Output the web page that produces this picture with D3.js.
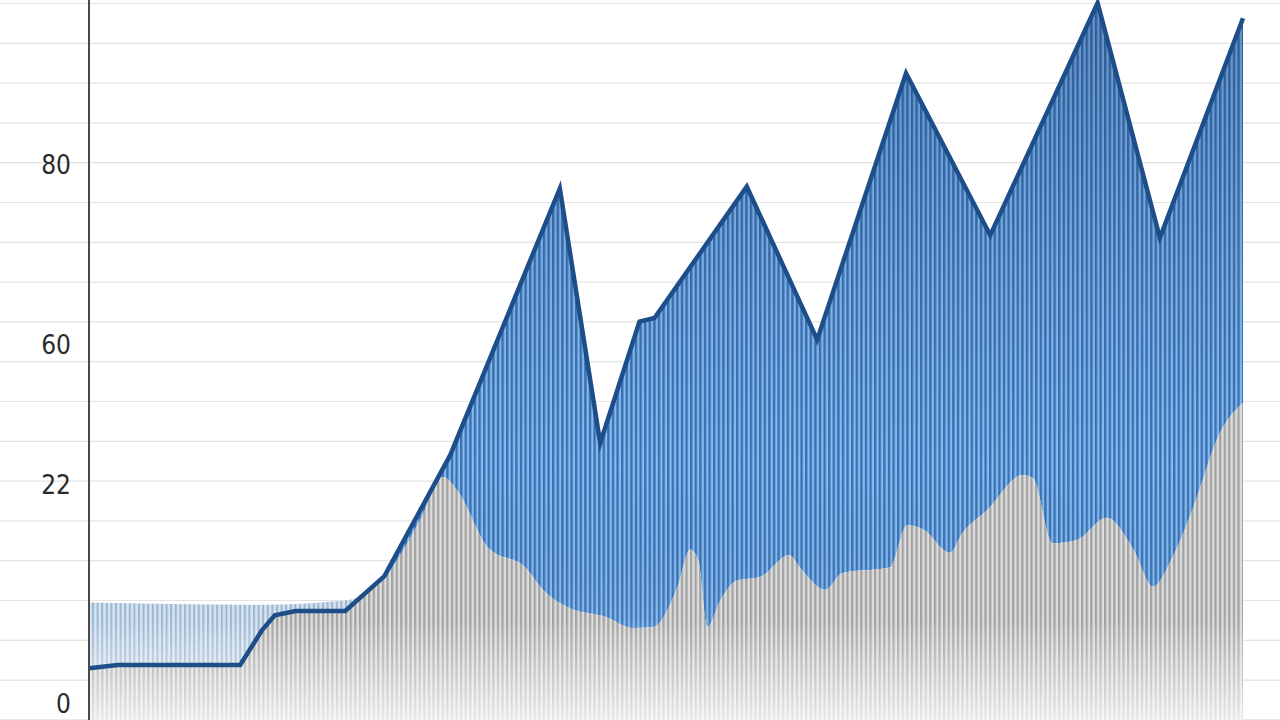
<!DOCTYPE html>
<html><head><meta charset="utf-8">
<script src="https://cdn.jsdelivr.net/npm/d3@7"></script>
<style>html,body{margin:0;background:#fff;overflow:hidden}</style>
</head><body>
<svg id="c" width="1280" height="720"></svg>
<script>
// Upper series (blue line) – position along x (0–100) and value
const lineT = [0, 2.5, 13.1, 15.0, 16.1, 17.9, 22.2, 25.6, 31.3, 40.8, 44.3, 47.7, 49.0, 57.0, 63.1, 70.8, 78.1, 87.4, 92.8, 100];
const lineV = [4.7, 5.0, 5.0, 8.3, 9.7, 10.1, 10.1, 13.4, 30.1, 77.4, 33.4, 62.6, 63.0, 77.6, 60.6, 90.2, 72.2, 98.0, 71.9, 96.3];
// Lower series (grey area)
const grayT = [0, 14.8, 22.2, 25.6, 28.7, 30.7, 31.9, 34.5, 38.0, 39.1, 41.4, 44.9, 47.1, 48.9, 51.0, 52.1, 52.8, 53.6, 54.7, 56.2, 58.1, 60.7, 61.6, 63.8, 65.3, 69.4, 70.9, 72.3, 74.6, 75.7, 77.8, 80.9, 81.8, 83.5, 85.6, 88.2, 90.5, 92.2, 93.9, 95.7, 98.0, 100];
const grayV = [10.9, 10.7, 11.1, 13.2, 18.7, 24.2, 21.5, 16.2, 14.0, 12.4, 10.5, 9.5, 8.5, 8.6, 12.4, 15.9, 14.9, 8.6, 11.1, 13.0, 13.3, 15.4, 14.2, 12.1, 13.7, 14.2, 18.2, 17.8, 15.6, 17.5, 19.6, 24.7, 23.9, 16.5, 16.8, 18.9, 15.9, 12.4, 15.2, 19.9, 36.1, 44.3];
// Y axis ticks
const tickValues = [0, 22, 60, 80];
const tickLabels = ["0", "22", "60", "80"];

const W = 1280, H = 720;
const svg = d3.select("#c");
const x = d3.scaleLinear().domain([0, 100]).range([89, 1243]);
const y = d3.scaleLinear().domain([0, 22, 60, 80, 98.33]).range([718, 485, 345, 165, 0]);

const lineData = lineT.map((t, i) => ({t, v: lineV[i]}));
const grayData = grayT.map((t, i) => ({t, v: grayV[i]}));

const defs = svg.append("defs");
function stripes(id, bg, fg, w) {
  const p = defs.append("pattern").attr("id", id).attr("patternUnits", "userSpaceOnUse")
    .attr("width", 4.6).attr("height", 10);
  p.append("rect").attr("width", 4.6).attr("height", 10).attr("fill", bg);
  p.append("rect").attr("width", w).attr("height", 10).attr("fill", fg);
}
stripes("bluePat", "#88bdee", "#3a71b6", 2.4);
stripes("paleBlue", "#d6e3ef", "#9bb6d2", 2.0);
stripes("grayPat", "#dedede", "#a2a2a2", 2.3);

function vgrad(id, stops) {
  const g = defs.append("linearGradient").attr("id", id).attr("gradientUnits", "userSpaceOnUse")
    .attr("x1", 0).attr("x2", 0).attr("y1", 0).attr("y2", H);
  stops.forEach(s => g.append("stop").attr("offset", s[0]).attr("stop-color", s[1]).attr("stop-opacity", s[2]));
}
vgrad("blueShade", [[0, "#0d2a5a", 0.3], [0.4, "#0d2a5a", 0.08], [0.65, "#0d2a5a", 0.0], [0.9, "#9ccaf5", 0.12]]);
vgrad("fade", [[0.86, "#ffffff", 0], [1, "#ffffff", 0.75]]);

const areaGray = d3.area().x(d => x(d.t)).y0(H).y1(d => y(d.v)).curve(d3.curveMonotoneX);
const aboveGray = d3.area().x(d => x(d.t)).y0(0).y1(d => y(d.v)).curve(d3.curveMonotoneX);
const lineArea = d3.area().x(d => x(d.t)).y0(H).y1(d => y(d.v));
const aboveLine = d3.area().x(d => x(d.t)).y0(0).y1(d => y(d.v));
const linePath = d3.line().x(d => x(d.t)).y(d => y(d.v));

defs.append("clipPath").attr("id", "clipAboveGray").append("path").attr("d", aboveGray(grayData));
defs.append("clipPath").attr("id", "clipBelowLine").append("path").attr("d", lineArea(lineData));
defs.append("clipPath").attr("id", "clipAboveLine").append("path").attr("d", aboveLine(lineData));

// grid
svg.append("g").selectAll("line").data(d3.range(3.5, H, 39.8)).join("line")
  .attr("x1", 0).attr("x2", W).attr("y1", d => d).attr("y2", d => d)
  .attr("stroke", "#e3e3e3").attr("stroke-width", 1.2);

// blue band between grey top and line
svg.append("path").attr("d", lineArea(lineData)).attr("fill", "url(#bluePat)").attr("clip-path", "url(#clipAboveGray)");
svg.append("path").attr("d", lineArea(lineData)).attr("fill", "url(#blueShade)").attr("clip-path", "url(#clipAboveGray)");
// grey area below line
svg.append("path").attr("d", areaGray(grayData)).attr("fill", "url(#grayPat)").attr("clip-path", "url(#clipBelowLine)");
// grey area above line (pale blue)
svg.append("path").attr("d", areaGray(grayData)).attr("fill", "url(#paleBlue)").attr("clip-path", "url(#clipAboveLine)");
// bottom fade
svg.append("rect").attr("x", 89).attr("y", 0).attr("width", 1243 - 89).attr("height", H).attr("fill", "url(#fade)");

// line
svg.append("path").attr("d", linePath(lineData)).attr("fill", "none")
  .attr("stroke", "#1d4e89").attr("stroke-width", 4.5)
  .attr("stroke-linejoin", "miter").attr("stroke-miterlimit", 12);

// y axis
const ax = svg.append("g").attr("transform", "translate(89,0)")
  .call(d3.axisLeft(y).tickValues(tickValues).tickFormat((d, i) => tickLabels[i]).tickSize(0).tickPadding(18));
ax.select(".domain").remove();
ax.selectAll("text").attr("font-family", "'Liberation Sans Narrow','DejaVu Sans Condensed',sans-serif")
  .attr("font-size", 26).attr("fill", "#2b2b2b");
ax.selectAll(".tick").filter(d => d === 0).select("text").attr("dy", "-0.2em");
svg.append("line").attr("x1", 89).attr("x2", 89).attr("y1", 0).attr("y2", H)
  .attr("stroke", "#4a4a4a").attr("stroke-width", 2);
</script>
</body></html>
